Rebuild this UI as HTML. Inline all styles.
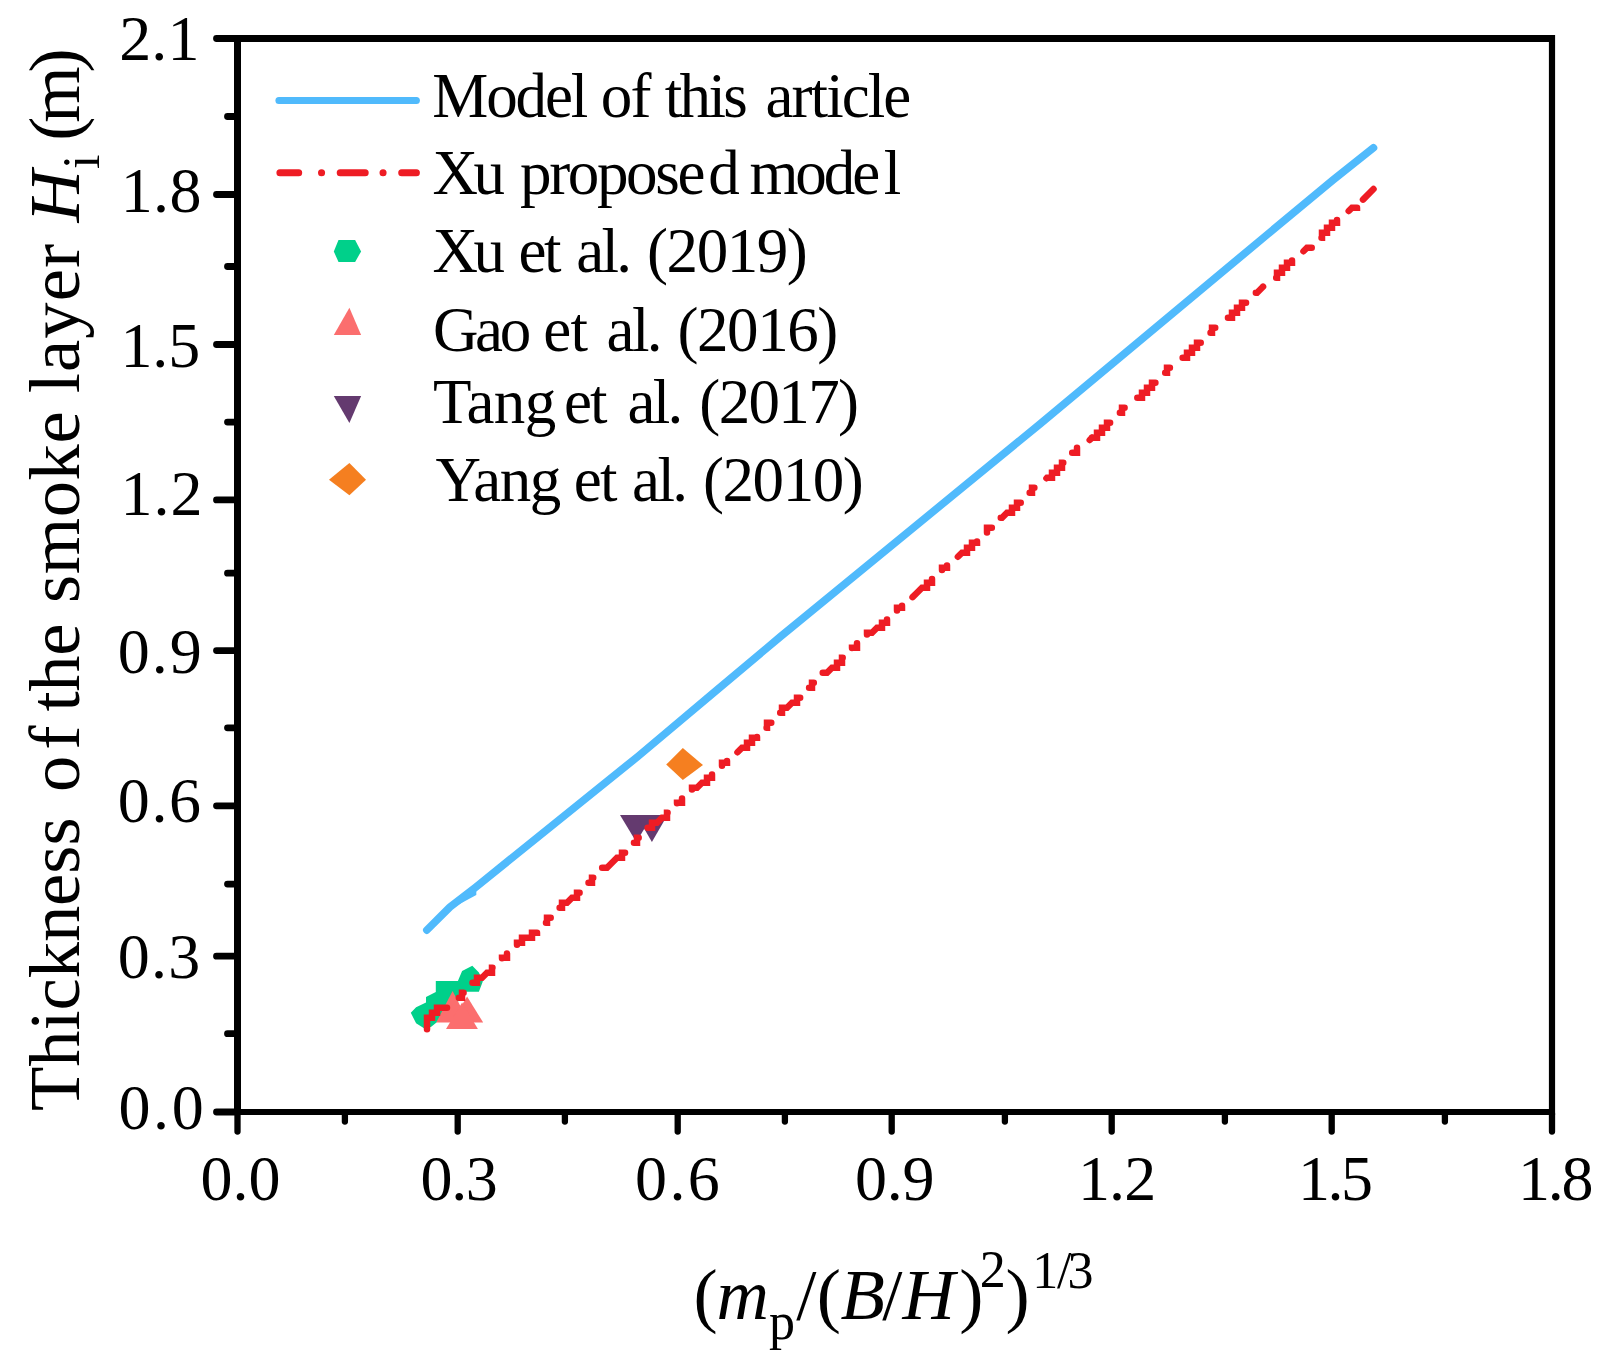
<!DOCTYPE html>
<html lang="en"><head><meta charset="utf-8"><title>Smoke layer thickness chart</title>
<style>html,body{margin:0;padding:0;background:#fff}svg{display:block}</style></head>
<body>
<svg width="1610" height="1369" viewBox="0 0 1610 1369" font-family="'Liberation Serif', serif" fill="#000">
<rect width="1610" height="1369" fill="#fff"/>
<polygon points="410.8,1012.8 416.1,1007.2 426.0,1002.6 426.0,997.0 435.8,992.1 435.8,980.9 457.9,980.9 462.1,971.0 472.3,965.8 478.9,972.4 482.8,981.6 478.9,991.7 463.1,991.7 462.8,996.0 446.0,1015.7 436.8,1022.3 430.9,1026.9 424.0,1028.2 416.1,1023.3" fill="#00d08a"/>
<polygon points="452.6,991.1 436.2,1022.6 469.0,1022.6" fill="#fb6e6e"/>
<polygon points="467.1,996.4 451.3,1022.6 483.2,1022.6" fill="#fb6e6e"/>
<polygon points="462.1,1002.6 446.0,1028.9 477.9,1028.9" fill="#fb6e6e"/>
<polygon points="620,815 652.6,815 636.3,842" fill="#643a6f"/>
<polygon points="636.3,815 667.5,815 651.9,842" fill="#643a6f"/>
<polygon points="666.2,764.6 682.8,748 703,765.1 682.8,780.1" fill="#f57f20"/>
<polygon points="449.5,909.5 476.3,894.9 476.3,889 452,903" fill="#50bafc"/>
<polyline points="426.8,930.1 450,907 476,886.9 637.7,756.6 716.9,690 780,637 1040,424 1260,240.6 1333,180 1373.5,147.8" fill="none" stroke="#50bafc" stroke-width="7.6" stroke-linecap="round" stroke-linejoin="round"/>
<path d="M427.0,1029.2 L427.0,1017.7 L432.0,1017.7 L432.0,1012.7 L437.0,1012.7 L437.0,1007.7 L447.0,1007.7" fill="none" stroke="#ee1c24" stroke-width="6.5" stroke-linecap="round" stroke-linejoin="miter"/>
<path d="M447.0,1007.7 L452.0,1002.7 L457.0,1002.7 L457.0,997.7 L462.0,997.7 L462.0,992.7 L467.0,992.7 L467.0,987.7 L472.0,987.7 L472.0,982.7 L477.0,982.7 L477.0,977.7 L482.0,977.7 L487.0,972.7 L492.0,972.7 L492.0,967.7 L497.0,967.7 L497.0,962.7 L502.0,962.7 L502.0,957.7 L507.0,957.7 L507.0,952.7 L512.0,952.7 L512.0,947.7 L517.0,947.7 L517.0,942.7 L522.0,942.7 L522.0,937.7 L527.0,937.7 L532.0,937.7 L532.0,932.7 L537.0,932.7 L537.0,927.7 L542.0,927.7 L542.0,922.7 L547.0,922.7 L547.0,917.7 L552.0,917.7 L552.0,912.7 L557.0,912.7 L557.0,907.7 L562.0,907.7 L562.0,902.7 L567.0,902.7 L572.0,897.7 L577.0,897.7 L577.0,892.7 L582.0,892.7 L582.0,887.7 L587.0,887.7 L587.0,882.7 L592.0,882.7 L592.0,877.7 L597.0,877.7 L597.0,872.7 L602.0,872.7 L602.0,867.7 L607.0,867.7 L612.0,862.7 L617.0,857.7 L622.0,857.7 L622.0,852.7 L627.0,852.7 L627.0,847.7 L632.0,847.7 L632.0,842.7 L637.0,842.7 L637.0,837.7 L642.0,837.7 L642.0,832.7 L647.0,832.7 L647.0,827.7 L652.0,827.7 L652.0,822.7 L657.0,822.7 L662.0,817.7 L667.0,817.7 L667.0,812.7 L672.0,812.7 L672.0,807.7 L677.0,807.7 L677.0,802.7 L682.0,802.7 L682.0,797.7 L687.0,797.7 L687.0,792.7 L692.0,792.7 L692.0,787.7 L697.0,787.7 L702.0,782.7 L707.0,782.7 L707.0,777.7 L712.0,777.7 L712.0,772.7 L717.0,772.7 L717.0,767.7 L722.0,767.7 L722.0,762.7 L727.0,762.7 L727.0,757.7 L732.0,757.7 L732.0,752.7 L737.0,752.7 L742.0,747.7 L747.0,747.7 L747.0,742.7 L752.0,742.7 L752.0,737.7 L757.0,737.7 L757.0,732.7 L762.0,732.7 L762.0,727.7 L767.0,727.7 L767.0,722.7 L772.0,722.7 L772.0,717.7 L777.0,717.7 L777.0,712.7 L782.0,712.7 L782.0,707.7 L787.0,707.7 L792.0,702.7 L797.0,702.7 L797.0,697.7 L802.0,697.7 L802.0,692.7 L807.0,692.7 L807.0,687.7 L812.0,687.7 L812.0,682.7 L817.0,682.7 L817.0,677.7 L822.0,677.7 L822.0,672.7 L827.0,672.7 L832.0,667.7 L837.0,667.7 L837.0,662.7 L842.0,662.7 L842.0,657.7 L847.0,657.7 L847.0,652.7 L852.0,652.7 L852.0,647.7 L857.0,647.7 L857.0,642.7 L862.0,642.7 L862.0,637.7 L867.0,637.7 L867.0,632.7 L872.0,632.7 L877.0,627.7 L882.0,627.7 L882.0,622.7 L887.0,622.7 L887.0,617.7 L892.0,617.7 L892.0,612.7 L897.0,612.7 L897.0,607.7 L902.0,607.7 L902.0,602.7 L907.0,602.7 L907.0,597.7 L912.0,597.7 L917.0,592.7 L922.0,587.7 L927.0,587.7 L927.0,582.7 L932.0,582.7 L932.0,577.7 L937.0,577.7 L937.0,572.7 L942.0,572.7 L942.0,567.7 L947.0,567.7 L947.0,562.7 L952.0,562.7 L952.0,557.7 L957.0,557.7 L962.0,552.7 L967.0,552.7 L967.0,547.7 L972.0,547.7 L972.0,542.7 L977.0,542.7 L977.0,537.7 L982.0,537.7 L982.0,532.7 L987.0,532.7 L987.0,527.7 L992.0,527.7 L992.0,522.7 L997.0,522.7 L997.0,517.7 L1002.0,517.7 L1007.0,512.7 L1012.0,512.7 L1012.0,507.7 L1017.0,507.7 L1017.0,502.7 L1022.0,502.7 L1022.0,497.7 L1027.0,497.7 L1027.0,492.7 L1032.0,492.7 L1032.0,487.7 L1037.0,487.7 L1037.0,482.7 L1042.0,482.7 L1047.0,477.7 L1052.0,477.7 L1052.0,472.7 L1057.0,472.7 L1057.0,467.7 L1062.0,467.7 L1062.0,462.7 L1067.0,462.7 L1067.0,457.7 L1072.0,457.7 L1072.0,452.7 L1077.0,452.7 L1077.0,447.7 L1082.0,447.7 L1082.0,442.7 L1087.0,442.7 L1092.0,437.7" fill="none" stroke="#ee1c24" stroke-width="6.5" stroke-linecap="round" stroke-linejoin="miter" stroke-dasharray="32.03 18.93 9.71 18.93" stroke-dashoffset="32.03"/>
<path d="M1092.0,437.7 L1097.0,437.7 L1097.0,432.7 L1102.0,432.7 L1102.0,427.7 L1107.0,427.7 L1107.0,422.7 L1112.0,422.7 L1112.0,417.7 L1117.0,417.7 L1117.0,412.7 L1122.0,412.7 L1122.0,407.7 L1127.0,407.7 L1127.0,402.7 L1132.0,402.7 L1137.0,397.7 L1142.0,397.7 L1142.0,392.7 L1147.0,392.7 L1147.0,387.7 L1152.0,387.7 L1152.0,382.7 L1157.0,382.7 L1157.0,377.7 L1162.0,377.7 L1162.0,372.7 L1167.0,372.7 L1167.0,367.7 L1172.0,367.7 L1177.0,362.7 L1182.0,362.7 L1182.0,357.7 L1187.0,357.7 L1187.0,352.7 L1192.0,352.7 L1192.0,347.7 L1197.0,347.7 L1197.0,342.7 L1202.0,342.7 L1202.0,337.7 L1207.0,337.7 L1207.0,332.7 L1212.0,332.7 L1212.0,327.7 L1217.0,327.7 L1222.0,322.7 L1227.0,322.7 L1227.0,317.7 L1232.0,317.7 L1232.0,312.7 L1237.0,312.7 L1237.0,307.7 L1242.0,307.7 L1242.0,302.7 L1247.0,302.7 L1247.0,297.7 L1252.0,297.7 L1252.0,292.7 L1257.0,292.7 L1262.0,287.7 L1267.0,282.7 L1272.0,282.7 L1272.0,277.7 L1277.0,277.7 L1277.0,272.7 L1282.0,272.7 L1282.0,267.7 L1287.0,267.7 L1287.0,262.7 L1292.0,262.7 L1292.0,257.7 L1297.0,257.7 L1297.0,252.7 L1302.0,252.7 L1307.0,247.7 L1312.0,247.7 L1312.0,242.7 L1317.0,242.7 L1317.0,237.7 L1322.0,237.7 L1322.0,232.7 L1327.0,232.7 L1327.0,227.7 L1332.0,227.7 L1332.0,222.7 L1337.0,222.7 L1337.0,217.7 L1342.0,217.7 L1342.0,212.7 L1347.0,212.7 L1352.0,207.7 L1357.0,207.7 L1357.0,202.7" fill="none" stroke="#ee1c24" stroke-width="6.5" stroke-linecap="round" stroke-linejoin="miter" stroke-dasharray="33.09 19.80 9.70 19.80"/>
<path d="M1363,199.6 L1373.5,189" fill="none" stroke="#ee1c24" stroke-width="6.5" stroke-linecap="round" stroke-linejoin="miter"/>
<path d="M237.5,38.5 H1552.0 M237.5,35.0 V1115.1" fill="none" stroke="#000" stroke-width="7"/>
<path d="M237.5,1112.0 H1552.0 M1552.0,35.0 V1115.1" fill="none" stroke="#000" stroke-width="6.2"/>
<path d="M237.5,1113.5 V1131.6 M457.7,1113.5 V1131.6 M677.7,1113.5 V1131.6 M891.7,1113.5 V1131.6 M1111.7,1113.5 V1131.6 M1331.7,1113.5 V1131.6 M1552.0,1113.5 V1131.6 M344.9,1113.5 V1121.6 M564.9,1113.5 V1121.6 M784.9,1113.5 V1121.6 M1004.9,1113.5 V1121.6 M1224.9,1113.5 V1121.6 M1444.9,1113.5 V1121.6" fill="none" stroke="#000" stroke-width="6.3" stroke-linecap="round"/>
<path d="M236.0,1112.0 H216.5 M236.0,956.2 H216.5 M236.0,805.8 H216.5 M236.0,650.6 H216.5 M236.0,499.9 H216.5 M236.0,344.5 H216.5 M236.0,194.5 H216.5 M236.0,38.5 H216.5 M236.0,1033.7 H227.5 M236.0,884.1 H227.5 M236.0,727.8 H227.5 M236.0,573.2 H227.5 M236.0,422.1 H227.5 M236.0,266.5 H227.5 M236.0,116.5 H227.5" fill="none" stroke="#000" stroke-width="6.8" stroke-linecap="round"/>
<text x="200.4" y="1200.3" font-size="64" letter-spacing="0.10">0.0</text>
<text x="420.6" y="1200.3" font-size="64" letter-spacing="-1.42">0.3</text>
<text x="635.0" y="1200.3" font-size="64" letter-spacing="2.41">0.6</text>
<text x="855.1" y="1200.3" font-size="64" letter-spacing="-0.32">0.9</text>
<text x="1077.9" y="1200.3" font-size="64" letter-spacing="-0.79">1.2</text>
<text x="1298.1" y="1200.3" font-size="64" letter-spacing="-2.57">1.5</text>
<text x="1517.9" y="1200.3" font-size="64" letter-spacing="-2.25">1.8</text>
<text x="119.2" y="60" font-size="64" letter-spacing="0.13">2.1</text>
<text x="120.7" y="211.7" font-size="64" letter-spacing="0.40">1.8</text>
<text x="120.4" y="366.8" font-size="64" letter-spacing="-0.07">1.5</text>
<text x="120.4" y="515.2" font-size="64" letter-spacing="1.11">1.2</text>
<text x="117.8" y="672.5" font-size="64" letter-spacing="1.93">0.9</text>
<text x="117.8" y="821.5" font-size="64" letter-spacing="1.61">0.6</text>
<text x="117.8" y="977.9" font-size="64" letter-spacing="1.23">0.3</text>
<text x="118.4" y="1128.5" font-size="64" letter-spacing="2.70">0.0</text>
<path d="M278.9,100.5 H416.4" stroke="#50bafc" stroke-width="7" stroke-linecap="round" fill="none"/>
<path d="M279.9,172.8 H298.7 M321.5,172.8 h0.1 M340.2,172.8 H365.2 M383,172.8 h0.1 M401.7,172.8 H416.4" stroke="#ee1c24" stroke-width="7" stroke-linecap="round" fill="none"/>
<polygon points="333.8,251.4 338.5,240 355.1,240 361.1,251.4 355.1,262 338.5,262" fill="#00d08a"/>
<polygon points="333.8,335 361.1,335 349.4,307.8" fill="#fb6e6e"/>
<polygon points="333.8,396 361.1,396 349.4,422.9" fill="#643a6f"/>
<polygon points="329,479.8 349.4,462.9 366,479.8 349.4,495.2" fill="#f57f20"/>
<text y="116.5" font-size="63"><tspan x="432.3" letter-spacing="-2.11">Model</tspan> <tspan x="600.8" letter-spacing="-1.89">of</tspan> <tspan x="664.7" letter-spacing="-2.61">this</tspan> <tspan x="765.6" letter-spacing="-1.96">article</tspan></text>
<text y="194.3" font-size="63"><tspan x="432.6" letter-spacing="-4.60">Xu</tspan> <tspan x="520.0" letter-spacing="-2.35">propose</tspan><tspan x="708.2">d</tspan> <tspan x="749.4" letter-spacing="-3.08">mode</tspan><tspan x="883.7">l</tspan></text>
<text y="272.4" font-size="63"><tspan x="432.6" letter-spacing="-4.60">Xu</tspan> <tspan x="518.4" letter-spacing="-2.28">et</tspan> <tspan x="576.2" letter-spacing="-2.68">al.</tspan> <tspan x="647.1" letter-spacing="-1.47">(2019)</tspan></text>
<text y="350.8" font-size="63"><tspan x="433.0" letter-spacing="-3.41">Gao</tspan> <tspan x="543.3" letter-spacing="-0.78">et</tspan> <tspan x="606.6" letter-spacing="-2.63">al.</tspan> <tspan x="677.5" letter-spacing="-1.45">(2016)</tspan></text>
<text y="422.8" font-size="63"><tspan x="432.9" letter-spacing="-0.56">Tang</tspan> <tspan x="564.1" letter-spacing="-1.98">et</tspan> <tspan x="627.4" letter-spacing="-2.63">al.</tspan> <tspan x="699.3" letter-spacing="-1.65">(2017)</tspan></text>
<text y="500.6" font-size="63"><tspan x="435.6" letter-spacing="-1.54">Yang</tspan> <tspan x="573.7" letter-spacing="-1.68">et</tspan> <tspan x="632.1" letter-spacing="-2.63">al.</tspan> <tspan x="703.0" letter-spacing="-1.45">(2010)</tspan></text>
<text transform="translate(78.5,1109.7) rotate(-90)"><tspan x="-1.3" y="0" letter-spacing="-0.09" font-size="72.6">Thickness</tspan> <tspan x="317.7" y="0" letter-spacing="5.88" font-size="72.6">of</tspan> <tspan x="398.1" y="0" letter-spacing="-0.34" font-size="72.6">the</tspan> <tspan x="506.7" y="0" letter-spacing="0.54" font-size="72.6">smoke</tspan> <tspan x="716.5" y="0" letter-spacing="1.07" font-size="72.6">layer</tspan> <tspan x="887.2" y="0" font-style="italic" font-size="72.6">H</tspan><tspan x="940.6" y="20.7" font-size="52">i</tspan> <tspan x="968.9" y="0" letter-spacing="-6.13" font-size="72.6">(m)</tspan></text>
<text><tspan x="693.4" y="1319" font-size="72.6">(</tspan><tspan x="716.5" y="1319" font-style="italic" font-size="72.6">m</tspan><tspan x="769.0" y="1339.4" font-size="52">p</tspan><tspan x="796.3" y="1319" font-size="72.6">/</tspan><tspan x="816.7" y="1319" font-size="72.6">(</tspan><tspan x="840.6" y="1319" font-style="italic" font-size="72.6">B</tspan><tspan x="882.2" y="1319" font-size="72.6">/</tspan><tspan x="902.4" y="1319" font-style="italic" font-size="72.6">H</tspan><tspan x="959.3" y="1319" font-size="72.6">)</tspan><tspan x="979.8" y="1287.3" font-size="52">2</tspan><tspan x="1005.6" y="1319" font-size="72.6">)</tspan><tspan x="1032.2" y="1287.8" font-size="52">1</tspan><tspan x="1057.0" y="1287.8" font-size="52">/</tspan><tspan x="1067.5" y="1287.8" font-size="52">3</tspan></text>
</svg>
</body></html>
